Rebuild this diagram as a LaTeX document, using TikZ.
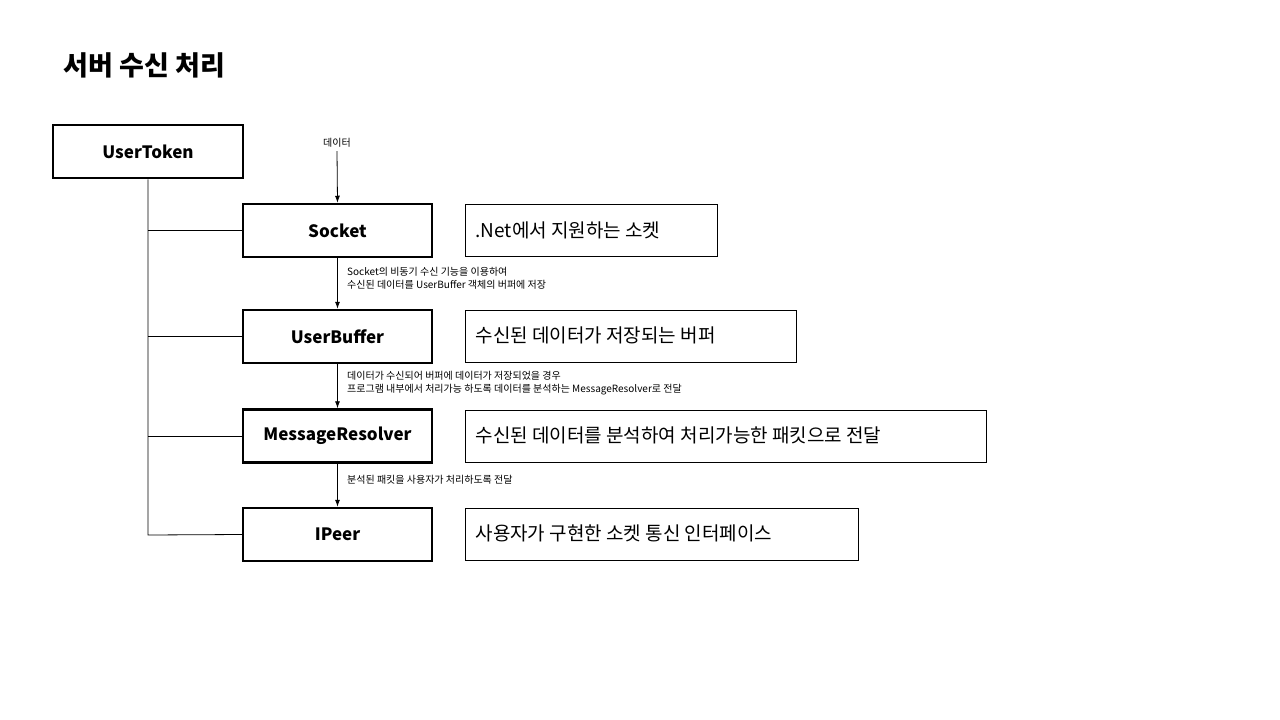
\documentclass[tikz,border=0pt]{standalone}
\usepackage{fontspec}
\setmainfont{Noto Sans CJK KR}
\usetikzlibrary{arrows.meta}
\begin{document}
\begin{tikzpicture}[x=1pt,y=-1pt,
  mainbox/.style={draw,line width=2.5pt,minimum width=189pt,minimum height=53pt,font=\fontsize{17}{20}\selectfont\bfseries},
  descbox/.style={draw,line width=0.8pt,minimum height=52pt,anchor=west,align=left,inner sep=0pt},
  small/.style={font=\fontsize{10}{13}\selectfont,anchor=north west,align=left,inner sep=0pt},
  arr/.style={-{Latex[length=7pt,width=5pt]},line width=0.8pt}]
\useasboundingbox (0,0) rectangle (1280,720);
\node[anchor=west,font=\fontsize{27}{32}\selectfont\bfseries] (title) at (60,65) {서버 수신 처리};
\node[mainbox,minimum width=190pt] (ut) at (148,151.5) {UserToken};
\node[mainbox] (so) at (337.5,230.5) {Socket};
\node[mainbox] (ub) at (337.5,336.5) {UserBuffer};
\node[mainbox] (mr) at (337.5,436) {MessageResolver};
\node[mainbox] (ip) at (337.5,534.5) {IPeer};
\node[font=\fontsize{10}{12}\selectfont] (data) at (337,143) {데이터};
\draw[arr] (data.south) -- (so.north);
\draw[arr] (so.south) -- (ub.north);
\draw[arr] (ub.south) -- (mr.north);
\draw[arr] (mr.south) -- (ip.north);
\coordinate (tb) at (148,535);
\draw[line width=0.8pt] (ut.south) -- (tb) -- (ip.west);
\draw[line width=0.8pt] (148,230.5) -- (so.west);
\draw[line width=0.8pt] (148,336.5) -- (ub.west);
\draw[line width=0.8pt] (148,436) -- (mr.west);
\node[small] (l1) at (347,267) {Socket의 비동기 수신 기능을 이용하여\\수신된 데이터를 UserBuffer 객체의 버퍼에 저장};
\node[small] (l2) at (347,371) {데이터가 수신되어 버퍼에 데이터가 저장되었을 경우\\프로그램 내부에서 처리가능 하도록 데이터를 분석하는 MessageResolver로 전달};
\node[small] (l3) at (347,475) {분석된 패킷을 사용자가 처리하도록 전달};
\tikzset{dt/.style={font=\fontsize{19}{22}\selectfont}}
\draw[line width=0.8pt] (465,204) rectangle (717,256);
\node[dt,anchor=west] (d1) at (472,230) {.Net에서 지원하는 소켓};
\draw[line width=0.8pt] (465,310) rectangle (796,362);
\node[dt,anchor=west] (d2) at (472,335) {수신된 데이터가 저장되는 버퍼};
\draw[line width=0.8pt] (465,410) rectangle (986,462);
\node[dt,anchor=west] (d3) at (472,435) {수신된 데이터를 분석하여 처리가능한 패킷으로 전달};
\draw[line width=0.8pt] (465,508) rectangle (858,560);
\node[dt,anchor=west] (d4) at (472,533) {사용자가 구현한 소켓 통신 인터페이스};
\end{tikzpicture}
\end{document}
